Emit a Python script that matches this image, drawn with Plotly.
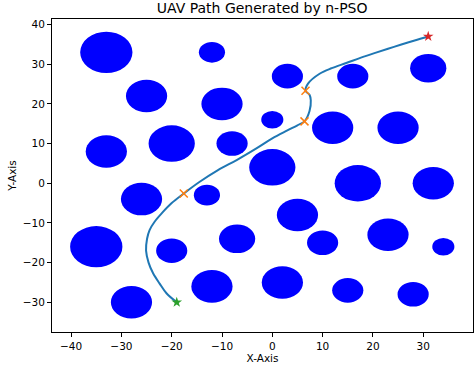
import plotly.graph_objects as go

# Obstacles (circles): centers and radii in data units
obs_x = [-33, -12, 3, 16, 31, -25, -10, 0, 12, 25, -33, -20, -8, 0, 17, 32,
         -26, -13, 5, -35, -20, -7, 10, 23, 34, -28, -12, 2, 15, 28]
obs_y = [33, 33, 27, 27, 29, 22, 20, 16, 14, 14, 8, 10, 10, 4, 0, 0,
         -4, -3, -8, -16, -17, -14, -15, -13, -16, -30, -26, -25, -27, -28]
obs_r = [5.2, 2.6, 3.1, 3.1, 3.6, 4.1, 4.1, 2.2, 4.1, 4.1, 4.1, 4.6, 3.1, 4.6, 4.6, 4.1,
         4.1, 2.6, 4.1, 5.2, 3.1, 3.6, 3.1, 4.1, 2.2, 4.1, 4.1, 4.1, 3.1, 3.1]

# Path
path_x = [-19, -21, -22.4, -23.7, -24.6, -25.1, -24.9, -24.4, -23.4, -22.0, -20.0, -17.6,
          -14.5, -10.8, -7, -3, 0, 3, 5, 6.4, 7.4, 7.65, 7.4, 6.6, 7.1, 9.4, 11.8, 14.7,
          17.5, 20.3, 23.0, 25.5, 28.3, 31]
path_y = [-30, -27.8, -25.3, -22.7, -20, -17, -14, -11.8, -9.7, -7.6, -5, -2.6,
          0.3, 3.3, 5.9, 8.9, 11.3, 13.3, 14.6, 15.6, 18.2, 20.9, 22.3, 23.3, 25.1, 27.6, 29.0, 30.3,
          31.6, 32.8, 33.9, 34.9, 36.0, 37]

wp_x = [-17.6, 6.4, 6.6]
wp_y = [-2.6, 15.6, 23.3]
start = (-19, -30)
goal = (31, 37)

x_ticks = [-40, -30, -20, -10, 0, 10, 20, 30]
y_ticks = [-30, -20, -10, 0, 10, 20, 30, 40]

fig = go.Figure()

shapes = []
for cx, cy, r in zip(obs_x, obs_y, obs_r):
    shapes.append(dict(type="circle", xref="x", yref="y",
                       x0=cx - r, x1=cx + r, y0=cy - r, y1=cy + r,
                       fillcolor="#0000ff", line=dict(width=0), layer="below"))

fig.add_trace(go.Scatter(x=path_x, y=path_y, mode="lines",
                         line=dict(color="#1f77b4", width=2, shape="spline"),
                         showlegend=False, hoverinfo="skip"))
fig.add_trace(go.Scatter(x=wp_x, y=wp_y, mode="markers",
                         marker=dict(symbol="x-thin", size=8, color="#ff7f0e",
                                     line=dict(width=1.5, color="#ff7f0e")),
                         showlegend=False))
fig.add_trace(go.Scatter(x=[start[0]], y=[start[1]], mode="markers",
                         marker=dict(symbol="star", size=8, color="#2ca02c"),
                         showlegend=False))
fig.add_trace(go.Scatter(x=[goal[0]], y=[goal[1]], mode="markers",
                         marker=dict(symbol="star", size=8, color="#d62728"),
                         showlegend=False))

axis_common = dict(showgrid=False, zeroline=False, showline=True, linecolor="#000000",
                   linewidth=1, mirror=True, ticks="outside", ticklen=4, tickwidth=1,
                   tickcolor="#000000", tickfont=dict(size=10.5, color="#000000"),
                   automargin=False)

fig.update_layout(
    width=474, height=366,
    margin=dict(l=52, r=1, t=19, b=34),
    paper_bgcolor="white", plot_bgcolor="white",
    font=dict(family="DejaVu Sans", color="#000000"),
    shapes=shapes,
    title=dict(text="UAV Path Generated by n-PSO", x=0.553, xanchor="center",
               y=0.992, yanchor="top", yref="container", pad=dict(t=0),
               font=dict(size=14, color="#000000")),
    xaxis=dict(range=[-43.8, 39.9], tickvals=x_ticks,
               title=dict(text="X-Axis", font=dict(size=10.5), standoff=3), **axis_common),
    yaxis=dict(range=[-37.5, 41.4], tickvals=y_ticks,
               title=dict(text="Y-Axis", font=dict(size=10.5), standoff=4), **axis_common),
)

fig.write_html("out.html", config={"displayModeBar": False},
               post_script="document.body.style.margin='0';document.body.style.overflow='hidden';")
